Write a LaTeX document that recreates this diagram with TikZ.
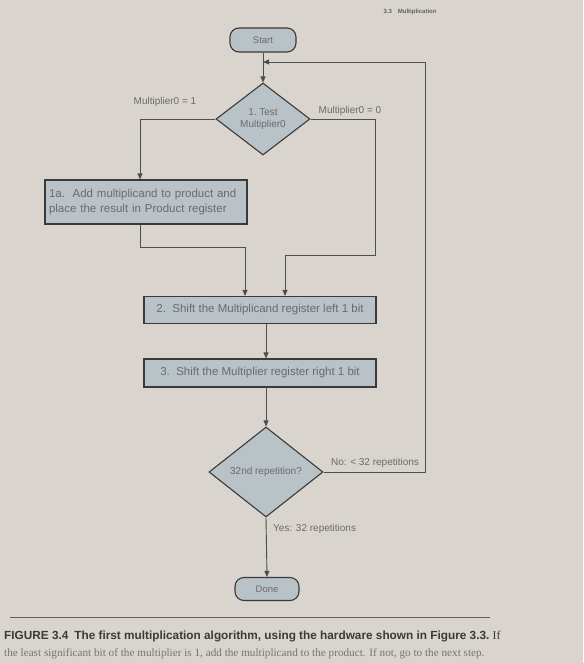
\documentclass[tikz,border=0pt]{standalone}
\usepackage{fontspec}
\setmainfont{Liberation Sans}
\newfontfamily\capserif{Liberation Serif}
\usetikzlibrary{shapes.geometric,arrows.meta}
\definecolor{pagebg}{HTML}{D9D4CE}
\definecolor{boxfill}{HTML}{B8C2C7}
\definecolor{ink}{HTML}{3A3A3A}
\tikzset{
  flowbox/.style={draw=ink,line width=1.1pt,fill=boxfill,rectangle,inner sep=0pt,font=\fontsize{11.5}{15}\selectfont,text=ink!75},
  term/.style={draw=ink,line width=1.1pt,fill=boxfill,rounded corners=9pt,inner sep=0pt,font=\fontsize{9.5}{11}\selectfont,text=ink!75},
  decide/.style={draw=ink,line width=1.1pt,fill=boxfill,diamond,inner sep=0pt,font=\fontsize{10}{12}\selectfont,text=ink!75,align=center},
  conn/.style={draw=ink!90,line width=0.9pt},
  arr/.style={conn,-{Triangle[length=6pt,width=5pt]}},
  lbl/.style={font=\fontsize{10}{11}\selectfont,text=ink!75,inner sep=1pt}
}
\begin{document}
\begin{tikzpicture}[x=1pt,y=-1pt]
\fill[pagebg] (0,0) rectangle (583,663);
\useasboundingbox (0,0) rectangle (583,663);
% header
\node[font=\bfseries\fontsize{6}{7}\selectfont,text=ink!80,anchor=west] (hdr) at (380,12) {3.3\quad Multiplication};
% nodes
\node[term,minimum width=66pt,minimum height=24pt] (start) at (263,40) {Start};
\node[decide,minimum width=94pt,minimum height=72pt] (test) at (263,119) {1.\ Test\\Multiplier0};
\node[flowbox,minimum width=202pt,minimum height=44pt,align=left,text width=194pt] (add) at (146,202) {1a.\ \ Add multiplicand to product and\\place the result in Product register};
\node[flowbox,minimum width=232pt,minimum height=27pt] (shl) at (260,310) {2.\ \ Shift the Multiplicand register left 1 bit};
\node[flowbox,minimum width=232pt,minimum height=28pt] (shr) at (260,373) {3.\ \ Shift the Multiplier register right 1 bit};
\node[decide,minimum width=114pt,minimum height=90pt] (rep) at (266,472) {32nd repetition?};
\node[term,minimum width=64pt,minimum height=23pt] (done) at (267,589) {Done};
% helper coordinates
\coordinate (loopin) at (263,62);
\coordinate (lt) at (140,119);
\coordinate (rt) at (375,119);
\coordinate (rb) at (375,255);
\coordinate (rin) at (285,255);
\coordinate (lb) at (140,247);
\coordinate (lin) at (245,247);
\coordinate (nr) at (425,472);
\coordinate (nt) at (425,62);
\coordinate (m1) at (266,323.5);
\coordinate (m2) at (266,387);
% connectors
\draw[arr] (start.south) -- (test.north);
\draw[conn] (test.west) -- (lt);
\draw[arr] (lt) -- (lt |- add.north);
\draw[conn] (test.east) -- (rt) -- (rb) -- (rin);
\draw[arr] (rin) -- (rin |- shl.north);
\draw[conn] (add.south -| lb) -- (lb) -- (lin);
\draw[arr] (lin) -- (lin |- shl.north);
\draw[arr] (m1) -- (m1 |- shr.north);
\draw[arr] (m2) -- (rep.north);
\draw[conn] (rep.east) -- (nr) -- (nt);
\draw[arr] (nt) -- (loopin);
\draw[arr] (rep.south) -- (done.north);
% labels
\node[lbl,anchor=south] (l1) at (165,108) {Multiplier0 = 1};
\node[lbl,anchor=south] (l0) at (350,117) {Multiplier0 = 0};
\node[lbl,anchor=south] (lno) at (375,469) {No: < 32 repetitions};
\node[lbl,anchor=west] (lyes) at (272,529) {Yes: 32 repetitions};
% caption
\draw[ink!80,line width=0.7pt] (10,617) -- (490,617);
\node[anchor=west,inner sep=0pt,font=\bfseries\fontsize{11.8}{13}\selectfont,text=ink] (cap1) at (4,636) {FIGURE 3.4\enspace The first multiplication algorithm, using the hardware shown in Figure 3.3.\ {\mdseries\capserif If}};
\node[anchor=west,inner sep=0pt,font=\capserif\fontsize{11.2}{13}\selectfont,text=ink!70] (cap2) at (4,654) {the least significant bit of the multiplier is 1, add the multiplicand to the product. If not, go to the next step.};
\end{tikzpicture}
\end{document}
